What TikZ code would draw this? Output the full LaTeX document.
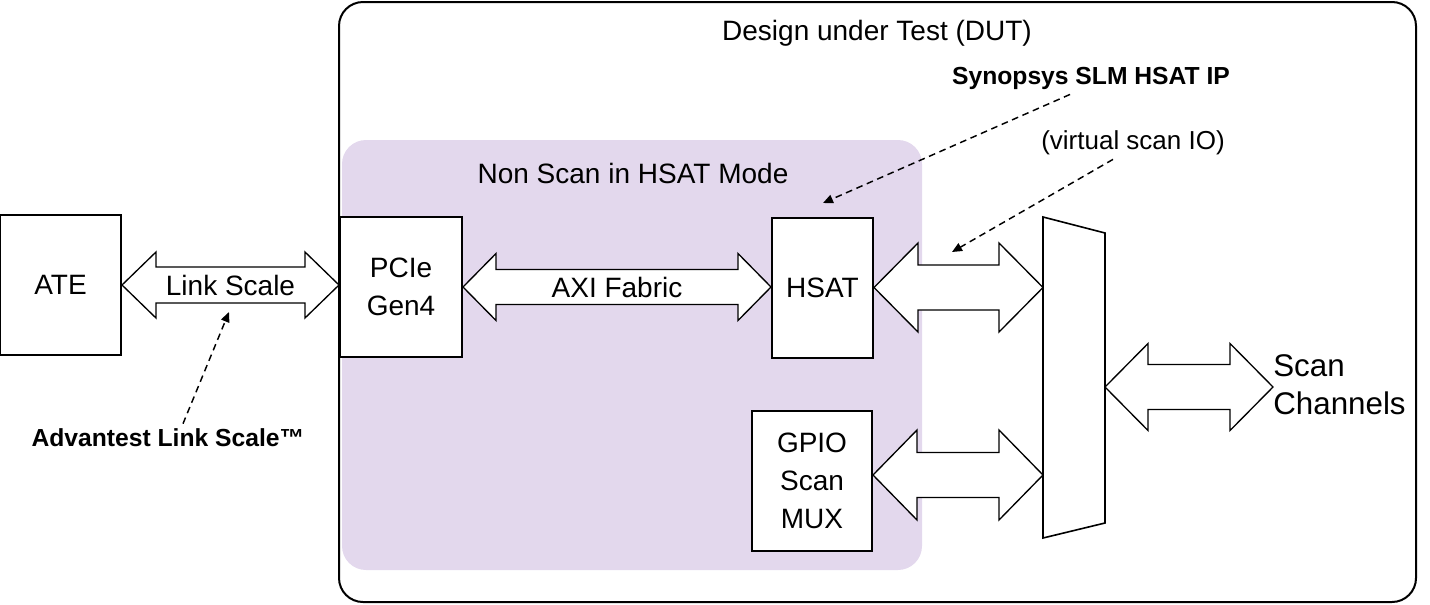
\documentclass[tikz,border=0pt]{standalone}
\usepackage{fontspec}
\setmainfont{Liberation Sans}
\usetikzlibrary{calc,arrows.meta}
\definecolor{hsatpurple}{RGB}{227,216,237}
\newdimen\px \px=0.75pt
\tikzset{
  box/.style={draw=black,line width=1.5pt,fill=white,inner sep=0pt,align=center,font=\fontsize{21}{28.5}\selectfont},
  fatarrow/.style={draw=black,line width=1pt,fill=white,line join=miter},
  dasharrow/.style={draw=black,line width=1.1pt,dash pattern=on 5pt off 3.5pt,-{Triangle[length=7.5pt,width=6.5pt]}},
  lbl/.style={inner sep=0pt,font=\fontsize{21}{28.5}\selectfont},
  blbl/.style={inner sep=0pt,font=\fontsize{18.5}{22}\selectfont\bfseries},
}
\newcommand\fatarrow[5]{% #1 left tip, #2 right tip, #3 shaft half, #4 head half, #5 head length
  \draw[fatarrow] (#1) -- ++(#5,-#4) -- ++(0,{#4-#3}) -- ($(#2)+(-#5,-#3)$) -- ++(0,{#3-#4}) -- (#2)
   -- ++(-#5,#4) -- ++(0,{#3-#4}) -- ($(#1)+(#5,#3)$) -- ++(0,{#4-#3}) -- cycle;}
\begin{document}
\begin{tikzpicture}[x=0.75pt,y=-0.75pt]
\useasboundingbox (0,0) rectangle (1430,604);
% DUT
\draw[line width=1.5pt,rounded corners=18pt] (339,2) rectangle (1416,602);
\node[lbl] (dut) at (877,33) {Design under Test (DUT)};
% purple region
\fill[hsatpurple,rounded corners=18pt] (342,140) rectangle (922,570);
\node[lbl] (nonscan) at (633,173) {Non Scan in HSAT Mode};
% boxes
\node[box,minimum width=121\px,minimum height=140\px] (ate) at (60.5,285) {ATE};
\node[box,minimum width=122\px,minimum height=140\px] (pcie) at (401,287) {PCIe\\Gen4};
\node[box,minimum width=101\px,minimum height=140\px] (hsat) at (822.5,287.5) {HSAT};
\node[box,minimum width=120\px,minimum height=140\px] (gpio) at (812,481) {GPIO\\Scan\\MUX};
% MUX
\draw[line width=1.2pt,fill=white,line join=miter] (1043,217) -- (1105,233) -- (1105,523) -- (1043,538) -- cycle;
\coordinate (muxL) at (1043,377);
\coordinate (muxR) at (1105,387);
\node[lbl,anchor=west,align=left,font=\fontsize{23.5}{28.5}\selectfont] (sc) at (1273,385) {Scan\\Channels};
% fat arrows
\fatarrow{ate.east}{ate.east -| pcie.west}{18}{33}{34}
\node[lbl] (ls) at ($(ate.east)!0.5!(ate.east -| pcie.west)$) {Link Scale};
\fatarrow{pcie.east}{pcie.east -| hsat.west}{17.5}{33.5}{33}
\node[lbl] (axi) at ($(pcie.east)!0.5!(pcie.east -| hsat.west)$) {AXI Fabric};
\fatarrow{hsat.east}{hsat.east -| muxL}{22.5}{44.5}{44}
\coordinate (gpioA) at ($(gpio.east)+(0,-6)$);
\fatarrow{gpioA}{gpioA -| muxL}{22.5}{45}{44}
\fatarrow{muxR}{muxR -| sc.west}{22.5}{43.5}{43}
% annotations
\node[blbl] (adv) at (168,438) {Advantest Link Scale™};
\node[blbl] (syn) at (1091,78) {Synopsys SLM HSAT IP};
\node[lbl,font=\fontsize{19.5}{22}\selectfont] (vsio) at (1133,143) {(virtual scan IO)};
\coordinate (advTip) at (229,312);
\coordinate (synTip) at (823,203);
\coordinate (vsTip) at (952,252);
\draw[dasharrow] ($(adv.north)+(15,-5)$) -- (advTip);
\draw[dasharrow] ($(syn.south)+(-21,5)$) -- (synTip);
\draw[dasharrow] ($(vsio.south)+(-20,4)$) -- (vsTip);
\end{tikzpicture}
\end{document}
